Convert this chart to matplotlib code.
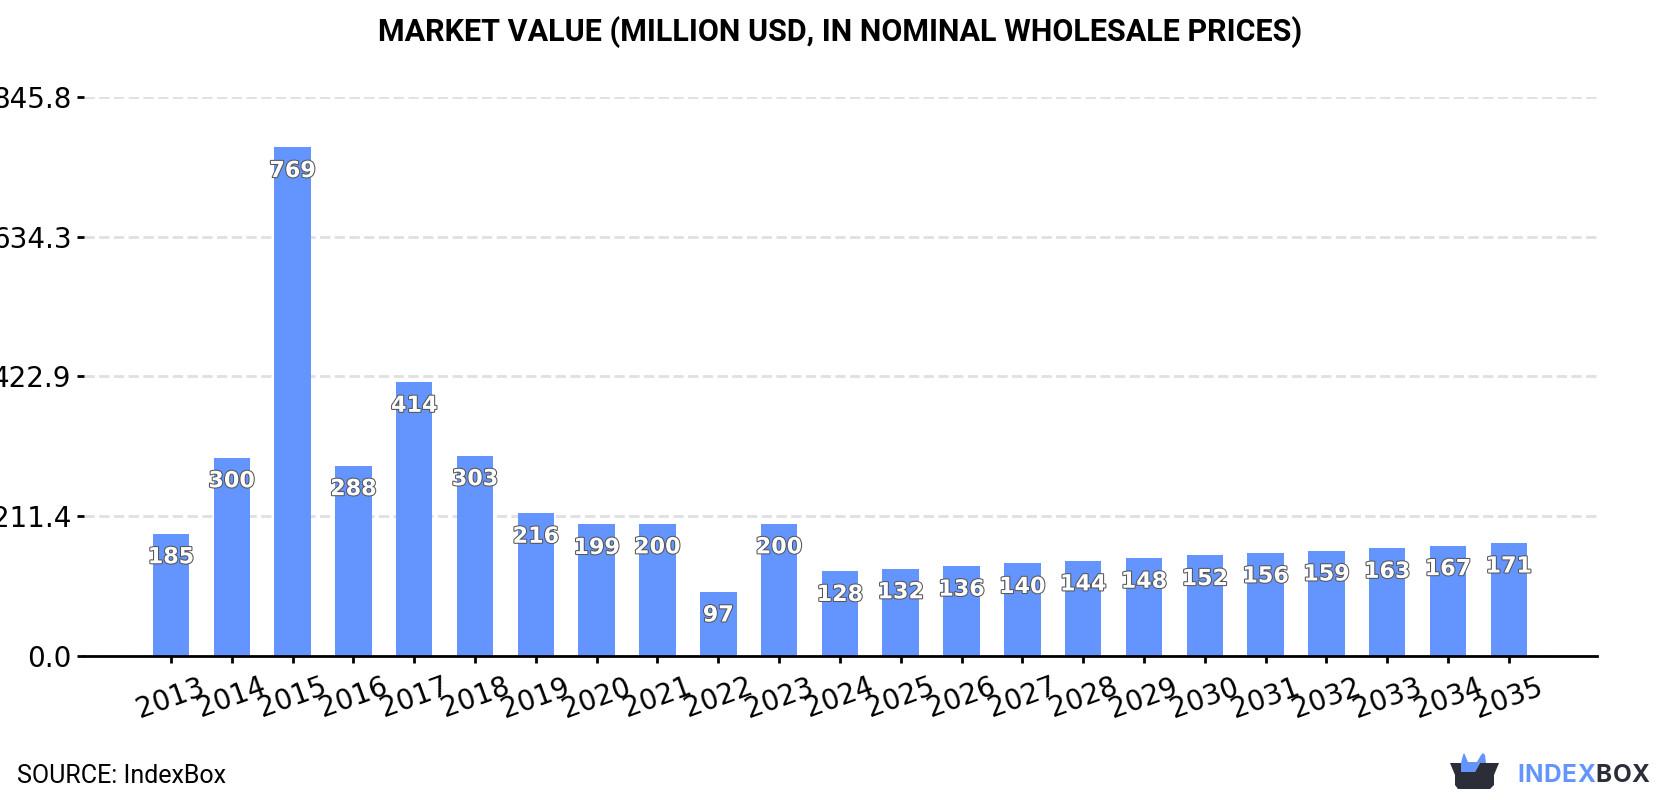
import matplotlib
matplotlib.use('Agg')
import matplotlib.pyplot as plt
import matplotlib.patheffects as pe
from matplotlib.patches import Polygon

years = [2013, 2014, 2015, 2016, 2017, 2018, 2019, 2020, 2021, 2022, 2023, 2024,
         2025, 2026, 2027, 2028, 2029, 2030, 2031, 2032, 2033, 2034, 2035]
values = [185, 300, 769, 288, 414, 303, 216, 199, 200, 97, 200, 128,
          132, 136, 140, 144, 148, 152, 156, 159, 163, 167, 171]
y_ticks = [0.0, 211.4, 422.9, 634.3, 845.8]

BLUE = '#6495ff'
DARK = '#2b2d38'
W, H = 1680, 800

fig = plt.figure(figsize=(W / 100, H / 100), dpi=100)
ax = fig.add_axes([84 / W, 1 - 656 / H, (1597 - 84) / W, (656 - 96.7) / H])

positions = list(range(len(years)))
ax.bar(positions, values, width=0.6, color=BLUE, zorder=3)
ax.set_xlim(-1.43, 23.45)
ax.set_ylim(0, 845.8)

ax.set_yticks(y_ticks)
ax.set_yticklabels([f'{t:.1f}' for t in y_ticks], fontsize=20)
ax.set_xticks(positions)
ax.set_xticklabels(years, fontsize=20, rotation=20)
ax.tick_params(axis='y', length=5, width=2, pad=4)
ax.tick_params(axis='x', length=5, width=2, pad=7)
ax.grid(axis='y', color='#e0e0e0', linewidth=2, linestyle='--', zorder=1)
ax.set_axisbelow(True)

for side in ['top', 'right', 'left']:
    ax.spines[side].set_visible(False)
ax.spines['bottom'].set_linewidth(2)
ax.spines['bottom'].set_zorder(4)

# value labels sit just inside the top of each bar
for x, v in zip(positions, values):
    ax.annotate(str(v), (x, v), xytext=(0, -17), textcoords='offset points',
                ha='center', va='center', fontsize=16, fontweight='bold', color='white',
                zorder=5, clip_on=False,
                path_effects=[pe.withStroke(linewidth=1.5, foreground='#555555')])

fig.text(0.5 * (378 + 1302) / W, 1 - 32 / H, 'MARKET VALUE (MILLION USD, IN NOMINAL WHOLESALE PRICES)',
         family='Roboto', fontweight='bold', fontsize=22, ha='center', va='center', color='black')
fig.text(17 / W, 1 - 776 / H, 'SOURCE: IndexBox', family='Roboto', fontsize=18,
         ha='left', va='center', color='black')

# logo box with the two ears poking out
def px(points):
    return [(x / W, 1 - y / H) for x, y in points]

ears = px([(1461, 772), (1461, 763), (1463, 755), (1464, 753), (1465, 755), (1468, 762),
           (1477, 762), (1481, 755), (1483, 753), (1485, 755), (1486, 763), (1480, 763),
           (1475, 772)])
body = px([(1450, 763), (1461, 763), (1461, 772), (1475, 772), (1480, 763), (1499, 763),
           (1494, 775), (1494, 785), (1490, 789), (1458, 789), (1455, 785), (1455, 775)])
fig.add_artist(Polygon(ears, closed=True, transform=fig.transFigure, color=BLUE, lw=0))
fig.add_artist(Polygon(body, closed=True, transform=fig.transFigure, color=DARK, lw=0))

# wordmark is letter-spaced, so place each letter on its own
renderer = fig.canvas.get_renderer()
cursor = 1517
for word, color in [('INDEX', BLUE), ('BOX', DARK)]:
    for letter in word:
        t = fig.text(cursor / W, 1 - 775 / H, letter, family='Inter', fontweight='bold',
                     fontsize=17.5, ha='left', va='center', color=color)
        cursor += t.get_window_extent(renderer).width + 0.6

fig.savefig('out.png', dpi=100)
